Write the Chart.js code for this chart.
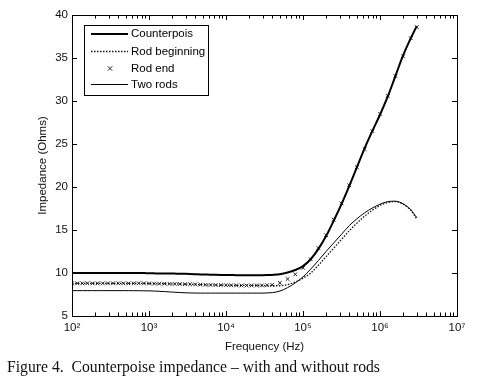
<!DOCTYPE html>
<html>
<head>
<meta charset="utf-8">
<script src="https://cdn.jsdelivr.net/npm/chart.js@4.4.0/dist/chart.umd.min.js"></script>
<style>
  body { margin: 0; background: #fff; }
  .wrap { position: relative; width: 500px; height: 384px; }
  .caption {
    position: absolute; left: 7px; top: 359px;
    font: 15.7px "Liberation Serif", "Times New Roman", serif;
    line-height: 1; white-space: pre; color: #111;
  }
</style>
</head>
<body>
<div class="wrap">
  <canvas id="impChart" width="500" height="384"></canvas>
  <div class="caption">Figure 4.  Counterpoise impedance – with and without rods</div>
</div>
<script>
// Frequency points (Hz)
const freq = [
  100, 117, 136, 158, 185, 215, 251, 293, 341, 398, 464, 541, 631, 736, 858,
  1000, 1166, 1359, 1585, 1848, 2154, 2512, 2929, 3415, 3981, 4642, 5412, 6310, 7356, 8577,
  10000, 11660, 13590, 15850, 18480, 21540, 25120, 29290, 34150, 39810,
  50120, 63100, 79430, 100000, 125900, 158500, 199500, 251200, 316200, 398100,
  501200, 631000, 794300, 1000000, 1259000, 1585000, 1995000, 2512000, 3000000,
];

// Impedance (Ohms)
const counterpois = [
  10.0, 10.0, 10.0, 10.0, 10.0, 10.0, 10.0, 10.0, 10.0, 10.0, 10.0, 10.0, 10.0, 10.0, 10.0,
  9.97, 9.96, 9.95, 9.95, 9.94, 9.93, 9.92, 9.9, 9.88, 9.86, 9.84, 9.82, 9.8, 9.79, 9.78,
  9.77, 9.76, 9.75, 9.75, 9.75, 9.75, 9.75, 9.75, 9.76, 9.78,
  9.85, 10.05, 10.35, 10.8, 11.6, 12.8, 14.3, 16.1, 18.0, 20.1,
  22.3, 24.5, 26.5, 28.4, 30.5, 32.9, 35.3, 37.3, 38.7,
];

const rodBeginning = [
  8.8, 8.8, 8.8, 8.8, 8.8, 8.8, 8.8, 8.8, 8.8, 8.8, 8.8, 8.8, 8.8, 8.8, 8.8,
  8.78, 8.77, 8.76, 8.75, 8.74, 8.73, 8.72, 8.7, 8.69, 8.67, 8.65, 8.63, 8.62, 8.6, 8.59,
  8.58, 8.57, 8.56, 8.55, 8.55, 8.55, 8.55, 8.54, 8.53, 8.52,
  8.52, 8.65, 8.95, 9.4, 10.0, 10.9, 11.9, 12.9, 13.9, 14.9,
  15.8, 16.6, 17.3, 17.85, 18.2, 18.3, 18.0, 17.3, 16.3,
];

const rodEnd = [
  8.8, 8.8, 8.8, 8.8, 8.8, 8.8, 8.8, 8.8, 8.8, 8.8, 8.8, 8.8, 8.8, 8.8, 8.8,
  8.78, 8.77, 8.76, 8.75, 8.74, 8.73, 8.72, 8.7, 8.69, 8.67, 8.65, 8.63, 8.62, 8.6, 8.59,
  8.58, 8.57, 8.56, 8.55, 8.55, 8.55, 8.55, 8.56, 8.58, 8.62,
  8.85, 9.3, 9.85, 10.6, 11.6, 12.9, 14.4, 16.2, 18.1, 20.2,
  22.3, 24.4, 26.5, 28.5, 30.6, 32.9, 35.2, 37.3, 38.6,
];

const twoRods = [
  7.95, 7.95, 7.95, 7.95, 7.95, 7.95, 7.95, 7.95, 7.95, 7.95, 7.95, 7.95, 7.94, 7.94, 7.93,
  7.92, 7.9, 7.87, 7.84, 7.8, 7.76, 7.73, 7.7, 7.68, 7.67, 7.66, 7.66, 7.66, 7.66, 7.66,
  7.66, 7.66, 7.66, 7.66, 7.66, 7.66, 7.66, 7.66, 7.68, 7.72,
  7.9, 8.3, 8.85, 9.55, 10.45, 11.45, 12.5, 13.5, 14.5, 15.5,
  16.3, 17.0, 17.55, 18.0, 18.3, 18.35, 18.05, 17.35, 16.45,
];

const seriesNames = ["Counterpois", "Rod beginning", "Rod end", "Two rods"];

// Axis ticks
const xTickValues = [1e2, 1e3, 1e4, 1e5, 1e6, 1e7];
const xTickLabels = ["10²", "10³", "10⁴", "10⁵", "10⁶", "10⁷"];
const yTickValues = [5, 10, 15, 20, 25, 30, 35, 40];

const pts = (ys) => freq.map((f, i) => ({ x: f, y: ys[i] }));
const fontFamily = "'Liberation Sans', Arial, sans-serif";

// MATLAB style box with inward ticks
const boxTicks = {
  id: "boxTicks",
  afterDraw(chart) {
    const { ctx, chartArea: a } = chart;
    const xs = chart.scales.x, ys = chart.scales.y;
    ctx.save();
    ctx.strokeStyle = "#000";
    ctx.lineWidth = 1;
    ctx.strokeRect(a.left + 0.5, a.top + 0.5, a.right - a.left, a.bottom - a.top);
    ctx.beginPath();
    for (let e = 2; e < 7; e++) {
      for (let m = 1; m < 10; m++) {
        const px = Math.round(xs.getPixelForValue(m * Math.pow(10, e))) + 0.5;
        const len = m === 1 ? 5 : 3.5;
        ctx.moveTo(px, a.bottom); ctx.lineTo(px, a.bottom - len);
        ctx.moveTo(px, a.top); ctx.lineTo(px, a.top + len);
      }
    }
    yTickValues.forEach((v) => {
      const py = Math.round(ys.getPixelForValue(v)) + 0.5;
      ctx.moveTo(a.left, py); ctx.lineTo(a.left + 5, py);
      ctx.moveTo(a.right, py); ctx.lineTo(a.right - 5, py);
    });
    ctx.stroke();
    ctx.restore();
  },
};

// legend inside the plot, upper left
const insideLegend = {
  id: "insideLegend",
  afterDraw(chart) {
    const ctx = chart.ctx;
    const x0 = 84, y0 = 25, w = 124, h = 70;
    const rows = [34, 51.5, 68.5, 84.5];
    ctx.save();
    ctx.fillStyle = "#fff";
    ctx.fillRect(x0, y0, w, h);
    ctx.strokeStyle = "#000";
    ctx.lineWidth = 1;
    ctx.strokeRect(x0 + 0.5, y0 + 0.5, w, h);
    chart.data.datasets.forEach((ds, i) => {
      const y = rows[i];
      ctx.strokeStyle = ds.borderColor;
      if (ds.showLine === false) {
        const cx = 110, r = 2.2;
        ctx.lineWidth = 1;
        ctx.beginPath();
        ctx.moveTo(cx - r, y - r); ctx.lineTo(cx + r, y + r);
        ctx.moveTo(cx + r, y - r); ctx.lineTo(cx - r, y + r);
        ctx.stroke();
      } else {
        ctx.lineWidth = ds.borderWidth;
        ctx.setLineDash(ds.borderDash || []);
        ctx.beginPath();
        ctx.moveTo(91, y); ctx.lineTo(128, y);
        ctx.stroke();
        ctx.setLineDash([]);
      }
      ctx.fillStyle = "#000";
      ctx.font = "11.5px " + fontFamily;
      ctx.textBaseline = "middle";
      ctx.fillText(ds.label, 131, y);
    });
    ctx.restore();
  },
};

const config = {
  type: "line",
  data: {
    datasets: [
      {
        label: seriesNames[0],
        data: pts(counterpois),
        borderColor: "#000",
        borderWidth: 2,
        pointRadius: 0,
        cubicInterpolationMode: "monotone",
      },
      {
        label: seriesNames[1],
        data: pts(rodBeginning),
        borderColor: "#111",
        borderWidth: 1.3,
        borderDash: [1.5, 1.5],
        pointRadius: 0,
        cubicInterpolationMode: "monotone",
      },
      {
        label: seriesNames[2],
        data: pts(rodEnd),
        borderColor: "#222",
        showLine: false,
        pointStyle: "crossRot",
        pointRadius: 2.6,
        pointBorderWidth: 1,
        pointBorderColor: "#222",
      },
      {
        label: seriesNames[3],
        data: pts(twoRods),
        borderColor: "#000",
        borderWidth: 1,
        pointRadius: 0,
        cubicInterpolationMode: "monotone",
      },
    ],
  },
  options: {
    responsive: false,
    animation: false,
    layout: {
      padding: { left: 32, right: 43, top: 15, bottom: 26 },
    },
    scales: {
      x: {
        type: "logarithmic",
        min: 100,
        max: 1e7,
        grid: { display: false, drawTicks: false },
        border: { display: false },
        afterBuildTicks: (s) => {
          s.ticks = xTickValues.map((v) => ({ value: v }));
        },
        afterFit: (s) => {
          s.height = 42;
        },
        ticks: {
          autoSkip: false,
          maxRotation: 0,
          padding: 5,
          color: "#111",
          font: { family: fontFamily, size: 11.5 },
          callback: (v, i) => xTickLabels[i],
        },
        title: {
          display: true,
          text: "Frequency (Hz)",
          color: "#111",
          font: { family: fontFamily, size: 11.5 },
        },
      },
      y: {
        min: 5,
        max: 40,
        grid: { display: false, drawTicks: false },
        border: { display: false },
        afterBuildTicks: (s) => {
          s.ticks = yTickValues.map((v) => ({ value: v }));
        },
        afterFit: (s) => {
          s.width = 40;
        },
        ticks: {
          padding: 4,
          color: "#111",
          font: { family: fontFamily, size: 11.5 },
        },
        title: {
          display: true,
          text: "Impedance (Ohms)",
          color: "#111",
          font: { family: fontFamily, size: 11.5 },
        },
      },
    },
    plugins: {
      legend: { display: false },
      tooltip: { enabled: false },
    },
  },
  plugins: [boxTicks, insideLegend],
};

const impChart = new Chart(document.getElementById("impChart"), config);
</script>
</body>
</html>
